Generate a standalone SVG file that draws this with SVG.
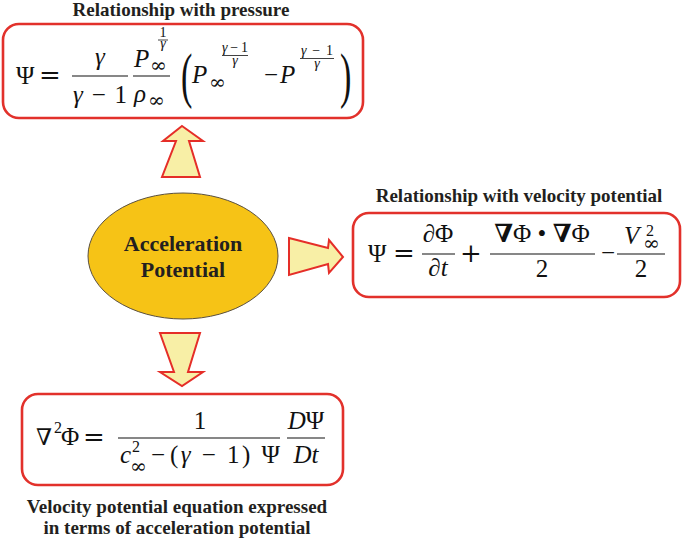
<svg xmlns="http://www.w3.org/2000/svg" width="685" height="543" viewBox="0 0 685 543">
<style>
.box{fill:#fff;stroke:#E2312B;stroke-width:2.6}
.arr{fill:#F8EFA6;stroke:#E52E28;stroke-width:2;stroke-linejoin:miter}
.ttl{font-family:"Liberation Serif","Times New Roman",serif;font-weight:bold;font-size:19px;fill:#231F20;text-anchor:middle}
.m{font-family:"Liberation Serif","DejaVu Serif",serif;font-size:25px;fill:#111}
.i{font-style:italic}
.s{font-size:16px}
.inf{font-family:"DejaVu Serif",serif;font-size:20px;fill:#111}
.ss{font-size:14px}
.op{font-family:"DejaVu Serif",serif;font-size:26px;fill:#111;text-anchor:middle}
.c{text-anchor:middle}
.bar{stroke:#111;stroke-width:1.1}
.sbar{stroke:#111;stroke-width:0.8}
</style>
<g id="connectors">
<polygon class="arr" points="182,126 203,141 189,141 200,177 162,177 176,141 163,141"/>
<polygon class="arr" points="289,238 328,248 329,240 343,257 329,273 328,264 289,275"/>
<polygon class="arr" points="160,333 200,333 188,372 203,372 182,386 160,372 174,372"/>
</g>
<g id="center">
<ellipse cx="183" cy="256" rx="95" ry="63" fill="#F6C316" stroke="#5a5040" stroke-width="1"/>
<text class="ttl" x="183" y="251" style="font-size:22px">Acceleration</text>
<text class="ttl" x="183" y="277" style="font-size:22px">Potential</text>
</g>
<g id="pressure">
<text class="ttl" x="181" y="15.5">Relationship with pressure</text>
<rect class="box" x="3" y="24" width="360" height="94" rx="16"/>
<text class="m" x="16" y="84">Ψ</text>
<text class="op" x="50" y="84">=</text>
<line class="bar" x1="72" y1="76" x2="128" y2="76"/>
<text class="m i c" x="100" y="65">γ</text>
<text class="m" x="73" y="103" textLength="54" lengthAdjust="spacing"><tspan class="i">γ</tspan> − 1</text>
<line class="bar" x1="133" y1="76" x2="170" y2="76"/>
<text class="m i" x="134" y="67">P</text>
<text class="inf" x="150" y="72">∞</text>
<text class="m ss c" x="163" y="37">1</text>
<line class="sbar" x1="158" y1="40" x2="168" y2="40"/>
<text class="m ss i c" x="163" y="48">γ</text>
<text class="m i" x="134" y="102">ρ</text>
<text class="inf" x="148" y="107">∞</text>
<text class="m" x="0" y="0" transform="translate(181,96) scale(0.55,1)" style="font-size:62px">(</text>
<text class="m i" x="192" y="83">P</text>
<text class="inf" x="209" y="89">∞</text>
<text class="m ss" x="222" y="52" textLength="26" lengthAdjust="spacing"><tspan class="i">γ</tspan> − 1</text>
<line class="sbar" x1="222" y1="55.5" x2="248" y2="55.5"/>
<text class="m ss i c" x="235" y="65">γ</text>
<text class="m c" x="271" y="83">−</text>
<text class="m i" x="280" y="83">P</text>
<text class="m ss" x="301" y="55" textLength="32" lengthAdjust="spacing"><tspan class="i">γ</tspan> − 1</text>
<line class="sbar" x1="300" y1="58.5" x2="334" y2="58.5"/>
<text class="m ss i c" x="317" y="68">γ</text>
<text class="m" x="0" y="0" transform="translate(340,96) scale(0.55,1)" style="font-size:62px">)</text>
</g>
<g id="velocity">
<text class="ttl" x="519" y="202">Relationship with velocity potential</text>
<rect class="box" x="353" y="213" width="327" height="84" rx="16"/>
<text class="m" x="368" y="262">Ψ</text>
<text class="op" x="404" y="262">=</text>
<line class="bar" x1="422" y1="254" x2="455" y2="254"/>
<text class="m c" x="438" y="242"><tspan class="i">∂</tspan>Φ</text>
<text class="m c" x="438" y="276"><tspan class="i">∂t</tspan></text>
<text class="op" x="471" y="262">+</text>
<line class="bar" x1="490" y1="254" x2="595" y2="254"/>
<text class="m c" x="542" y="242"><tspan font-weight="bold" font-family="DejaVu Serif">∇</tspan>Φ • <tspan font-weight="bold" font-family="DejaVu Serif">∇</tspan>Φ</text>
<text class="m c" x="542" y="277">2</text>
<text class="m c" x="608" y="261">−</text>
<line class="bar" x1="617" y1="254" x2="665" y2="254"/>
<text class="m i" x="624" y="244">V</text>
<text class="m s" x="646" y="236">2</text>
<text class="inf" x="643" y="250">∞</text>
<text class="m c" x="641" y="277">2</text>
</g>
<g id="equation">
<rect class="box" x="22" y="394" width="321" height="91" rx="16"/>
<text x="36" y="445" font-family="DejaVu Serif" font-size="23" fill="#111">∇</text>
<text class="m s" x="54" y="433">2</text>
<text class="m" x="61" y="445">Φ</text>
<text class="op" x="94" y="446">=</text>
<line class="bar" x1="118" y1="438" x2="280" y2="438"/>
<text class="m c" x="200" y="429">1</text>
<text class="m i" x="120" y="463">c</text>
<text class="m s" x="132" y="452">2</text>
<text class="inf" x="130" y="473">∞</text>
<text class="m c" x="158" y="463">−</text>
<text class="m" x="170" y="463" textLength="110" lengthAdjust="spacing">(<tspan class="i">γ</tspan> − 1) Ψ</text>
<line class="bar" x1="287" y1="438" x2="325" y2="438"/>
<text class="m c" x="306" y="429"><tspan class="i">D</tspan>Ψ</text>
<text class="m c i" x="306" y="463">Dt</text>
<text class="ttl" x="177" y="513">Velocity potential equation expressed</text>
<text class="ttl" x="177" y="534">in terms of acceleration potential</text>
</g>
</svg>
